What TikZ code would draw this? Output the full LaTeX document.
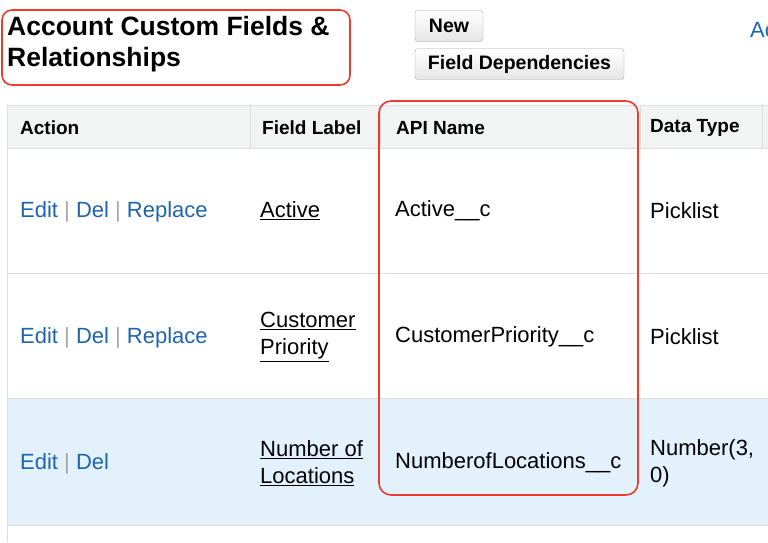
\documentclass[tikz,border=0pt]{standalone}
\usepackage{fontspec}
\setmainfont{Liberation Sans}
\definecolor{lnk}{HTML}{1F64B0}
\definecolor{grid}{HTML}{DDDDDD}
\definecolor{hdr}{HTML}{F2F3F3}
\definecolor{sel}{HTML}{E3F1FC}
\definecolor{hl}{HTML}{EE3B2E}
\begin{document}
\begin{tikzpicture}[x=1pt,y=-1pt,
  txt/.style={anchor=west,inner sep=0pt,font=\fontsize{22}{24}\selectfont},
  hd/.style={txt,font=\bfseries\fontsize{19}{21}\selectfont},
  btn/.style={draw=gray!70,rounded corners=3pt,top color=white,bottom color=gray!20,inner sep=0pt,font=\bfseries\fontsize{19.5}{21}\selectfont},
  redbox/.style={draw=hl,line width=1.6pt,rounded corners=12pt}]
\useasboundingbox (0,0) rectangle (768,542);
\fill[white] (0,0) rectangle (768,542);
% table backgrounds
\fill[hdr] (7,105) rectangle (768,148);
\fill[sel] (7,398) rectangle (768,525);
\draw[grid] (7,105) -- (768,105) (7,148) -- (768,148) (7,273) -- (768,273)
  (7,398) -- (768,398) (7,525) -- (768,525);
\draw[grid] (7,105) -- (7,542);
\foreach \x in {250,380,640,762} \draw[grid] (\x,105) -- (\x,148);
% title
\node[anchor=north west,inner sep=0pt,align=left,font=\bfseries\fontsize{26.5}{31}\selectfont] (title) at (7,16) {Account Custom Fields \&\\Relationships};
\draw[redbox,rounded corners=10pt] (2,10) rectangle (350,85);
% buttons
\node[btn,minimum width=68pt,minimum height=31pt] (new) at (449,26) {New};
\node[btn,minimum width=209pt,minimum height=31pt] (fd) at (519.5,64) {Field Dependencies};
\node[txt,text=lnk] (ac) at (750,30) {Ac};
% header
\node[hd] (h1) at (20,128) {Action};
\node[hd] (h2) at (262,128) {Field Label};
\node[hd] (h3) at (396,128) {API Name};
\node[hd] (h4) at (650,128) {Data Type};
% row 1
\node[txt] (a1) at (20,212) {\textcolor{lnk}{Edit} \textcolor{gray!70}{|} \textcolor{lnk}{Del} \textcolor{gray!70}{|} \textcolor{lnk}{Replace}};
\node[txt] (l1) at (260,211) {\underline{Active}};
\node[txt] (n1) at (395,211) {Active\_\_c};
\node[txt] (d1) at (650,211) {Picklist};
% row 2
\node[txt] (a2) at (20,338) {\textcolor{lnk}{Edit} \textcolor{gray!70}{|} \textcolor{lnk}{Del} \textcolor{gray!70}{|} \textcolor{lnk}{Replace}};
\node[txt,align=left,font=\fontsize{22}{27}\selectfont] (l2) at (260,337) {\underline{Customer}\\\underline{Priority}};
\node[txt] (n2) at (395,337) {CustomerPriority\_\_c};
\node[txt] (d2) at (650,337) {Picklist};
% row 3
\node[txt] (a3) at (20,464) {\textcolor{lnk}{Edit} \textcolor{gray!70}{|} \textcolor{lnk}{Del}};
\node[txt,align=left,font=\fontsize{22}{27}\selectfont] (l3) at (260,463) {\underline{Number of}\\\underline{Locations}};
\node[txt] (n3) at (395,463) {NumberofLocations\_\_c};
\node[txt,align=left,font=\fontsize{22}{27}\selectfont] (d3) at (650,463) {Number(3,\\0)};
% highlight
\draw[redbox] (379,101) rectangle (638,495);
\end{tikzpicture}
\end{document}
